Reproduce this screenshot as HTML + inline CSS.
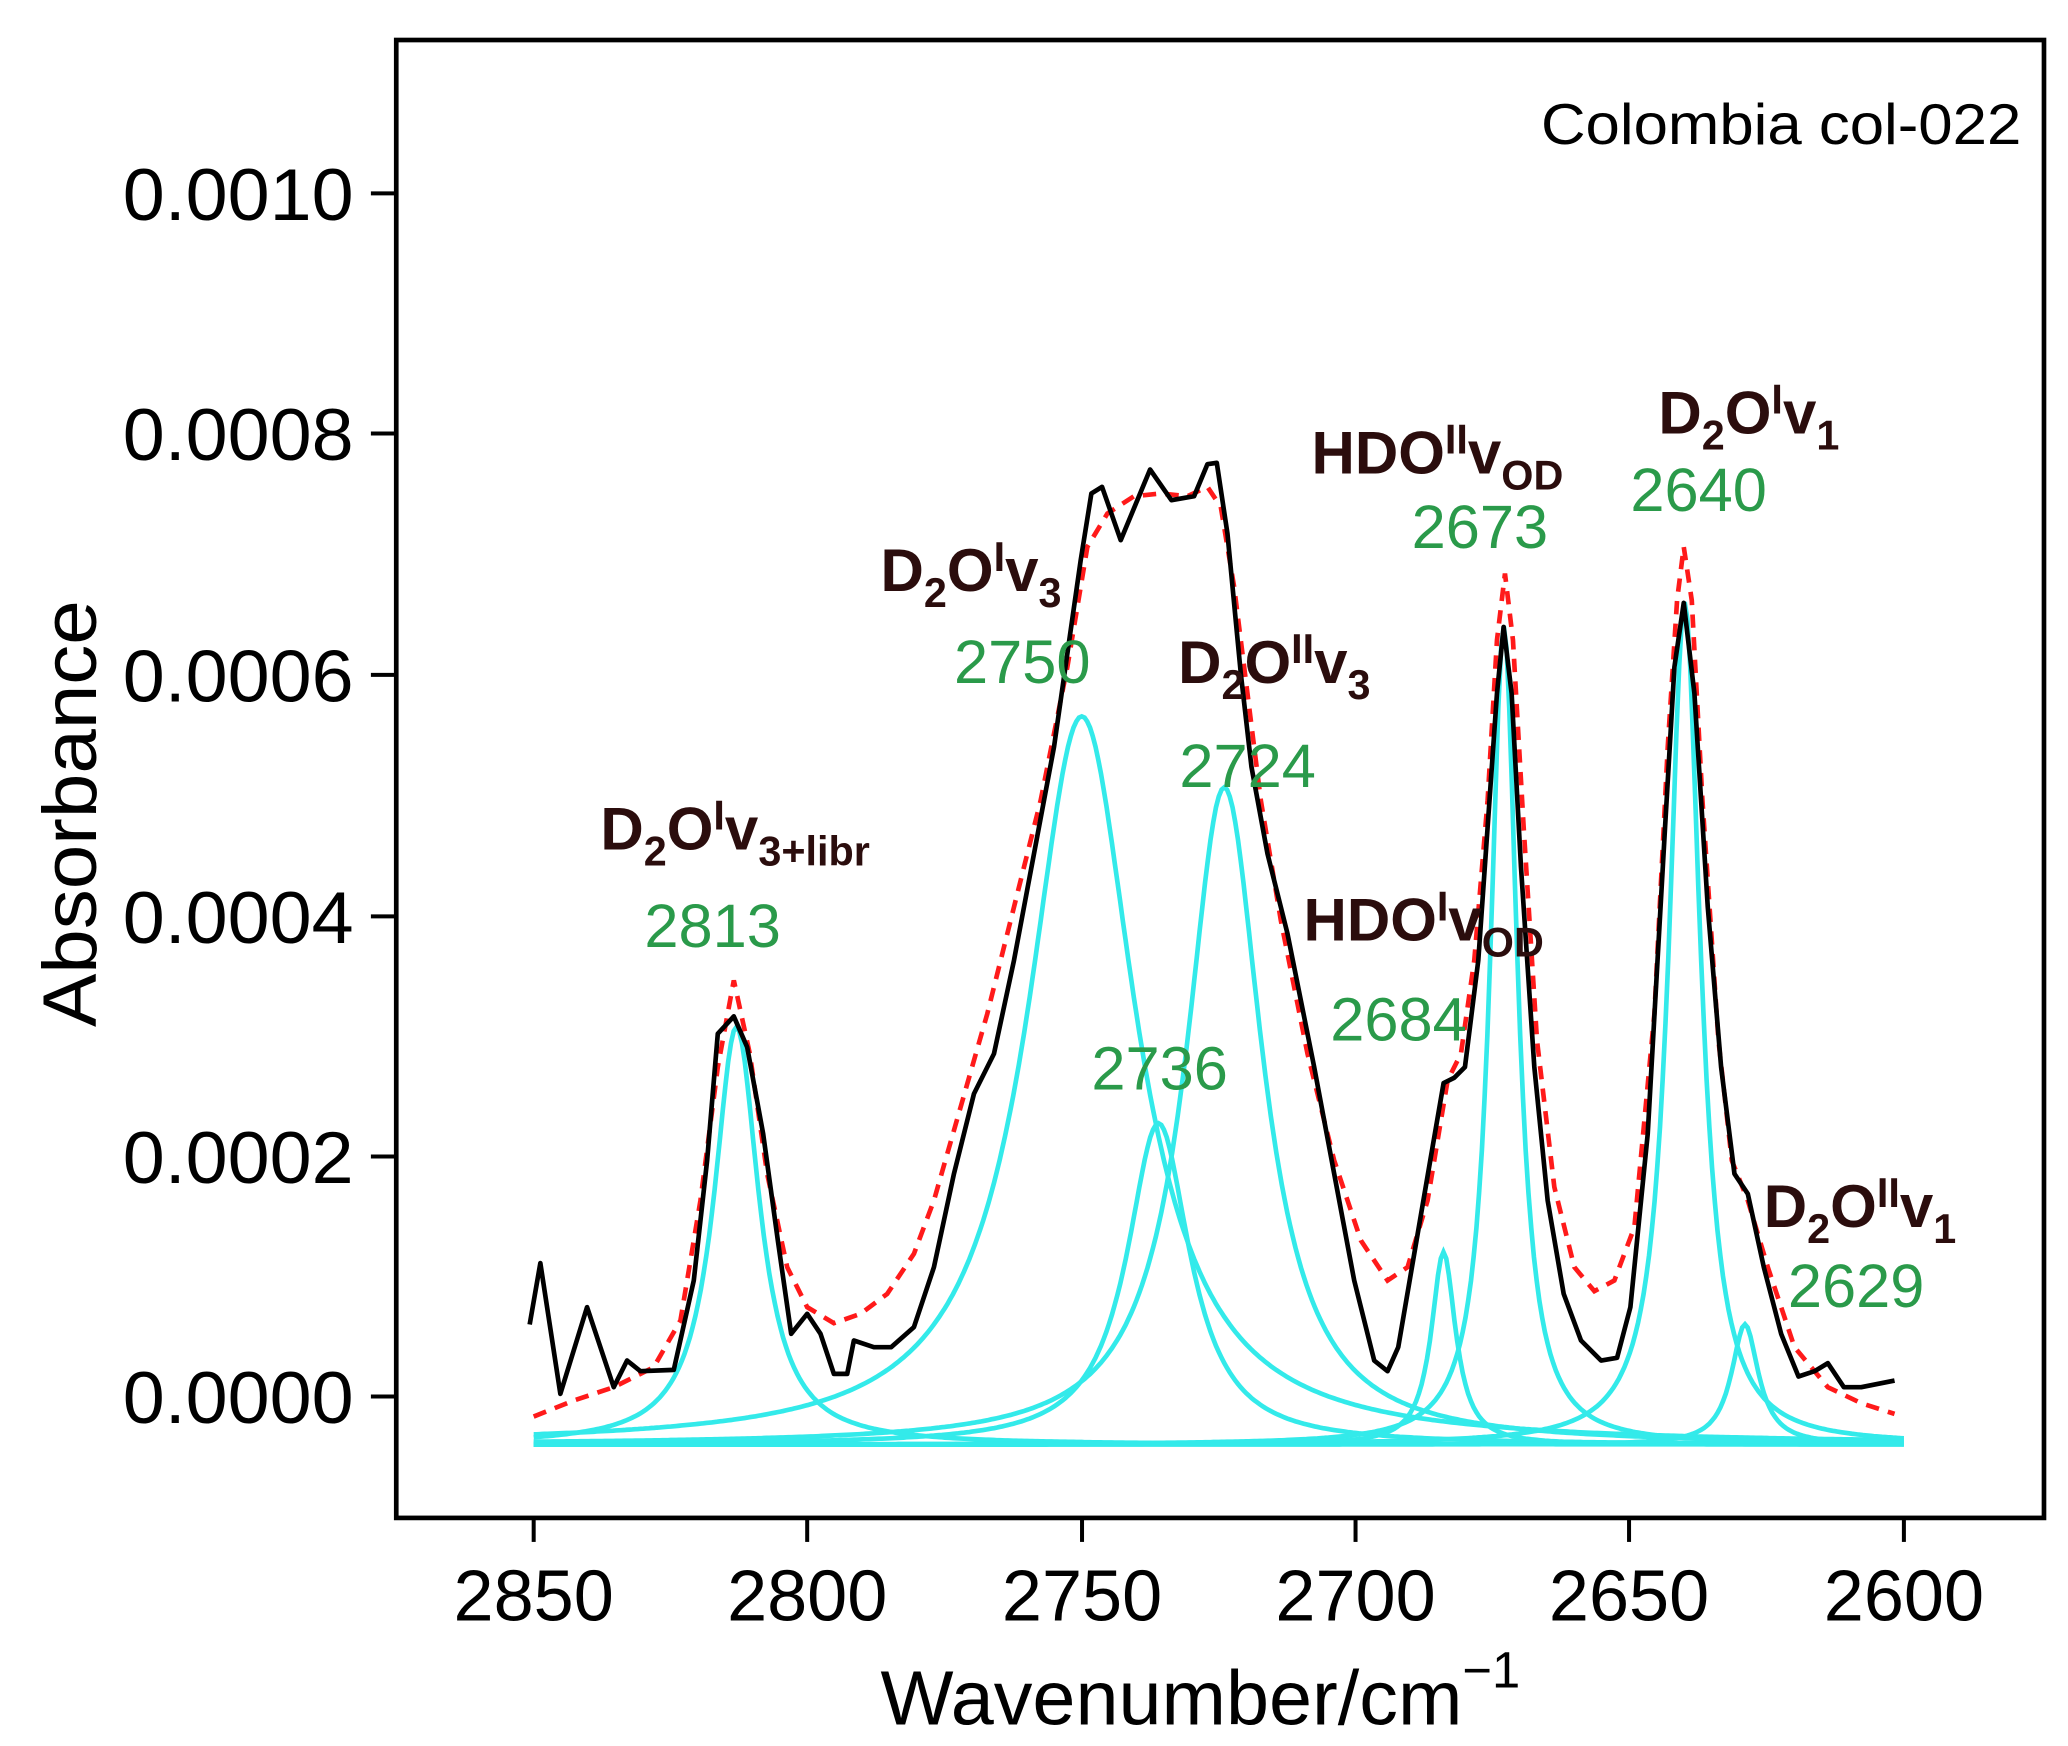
<!DOCTYPE html>
<html><head><meta charset="utf-8"><style>
html,body{margin:0;padding:0;background:#fff;}
svg{display:block;}
text{font-family:"Liberation Sans",Arial,sans-serif;}
.lb{font-weight:bold;fill:#2b0d0d;font-size:45px;}
.sb{font-size:31px;}
.gn{fill:#2a9a4a;font-size:46px;}
</style></head><body>
<svg id="s" width="2068" height="1746" viewBox="0 0 1550 1309" preserveAspectRatio="none" xmlns="http://www.w3.org/2000/svg">
<rect x="0" y="0" width="1550" height="1309" fill="#fff"/>
<g id="curves"></g>
<rect x="297" y="30" width="1235" height="1108" fill="none" stroke="#000" stroke-width="3.5"/>
<g stroke="#000" stroke-width="3">
<line x1="278" y1="145" x2="297" y2="145"/><line x1="278" y1="325" x2="297" y2="325"/>
<line x1="278" y1="506" x2="297" y2="506"/><line x1="278" y1="687" x2="297" y2="687"/>
<line x1="278" y1="867" x2="297" y2="867"/><line x1="278" y1="1047" x2="297" y2="1047"/>
<line x1="400" y1="1138" x2="400" y2="1156"/><line x1="605" y1="1138" x2="605" y2="1156"/>
<line x1="811" y1="1138" x2="811" y2="1156"/><line x1="1016" y1="1138" x2="1016" y2="1156"/>
<line x1="1221" y1="1138" x2="1221" y2="1156"/><line x1="1427" y1="1138" x2="1427" y2="1156"/>
</g>
<g font-size="55">
<text x="92" y="165" textLength="173" lengthAdjust="spacingAndGlyphs">0.0010</text>
<text x="92" y="345" textLength="173" lengthAdjust="spacingAndGlyphs">0.0008</text>
<text x="92" y="526" textLength="173" lengthAdjust="spacingAndGlyphs">0.0006</text>
<text x="92" y="707" textLength="173" lengthAdjust="spacingAndGlyphs">0.0004</text>
<text x="92" y="887" textLength="173" lengthAdjust="spacingAndGlyphs">0.0002</text>
<text x="92" y="1067" textLength="173" lengthAdjust="spacingAndGlyphs">0.0000</text>
</g>
<g font-size="54" text-anchor="middle">
<text x="400" y="1215">2850</text><text x="605" y="1215">2800</text>
<text x="811" y="1215">2750</text><text x="1016" y="1215">2700</text>
<text x="1221" y="1215">2650</text><text x="1427" y="1215">2600</text>
</g>
<text x="660" y="1293" font-size="58">Wavenumber/cm<tspan font-size="38" dy="-28">−1</tspan></text>
<text transform="translate(72,770) rotate(-90)" font-size="57" textLength="320" lengthAdjust="spacingAndGlyphs">Absorbance</text>
<text x="1155" y="108" font-size="43" textLength="360" lengthAdjust="spacingAndGlyphs">Colombia col-022</text>

<text class="lb" x="450" y="637">D<tspan class="sb" dy="12">2</tspan><tspan dy="-12">O</tspan><tspan class="sb" dy="-15">I</tspan><tspan dy="15">v</tspan><tspan class="sb" dy="12">3+libr</tspan></text>
<text class="gn" x="483" y="710">2813</text>
<text class="lb" x="660" y="443">D<tspan class="sb" dy="12">2</tspan><tspan dy="-12">O</tspan><tspan class="sb" dy="-15">I</tspan><tspan dy="15">v</tspan><tspan class="sb" dy="12">3</tspan></text>
<text class="gn" x="715" y="512">2750</text>
<text class="lb" x="883" y="512">D<tspan class="sb" dy="12">2</tspan><tspan dy="-12">O</tspan><tspan class="sb" dy="-15">II</tspan><tspan dy="15">v</tspan><tspan class="sb" dy="12">3</tspan></text>
<text class="gn" x="884" y="590">2724</text>
<text class="gn" x="818" y="817">2736</text>
<text class="lb" x="977" y="705">HDO<tspan class="sb" dy="-15">I</tspan><tspan dy="15">v</tspan><tspan class="sb" dy="12">OD</tspan></text>
<text class="gn" x="997" y="780">2684</text>
<text class="lb" x="983" y="355">HDO<tspan class="sb" dy="-15">II</tspan><tspan dy="15">v</tspan><tspan class="sb" dy="12">OD</tspan></text>
<text class="gn" x="1058" y="411">2673</text>
<text class="lb" x="1243" y="325">D<tspan class="sb" dy="12">2</tspan><tspan dy="-12">O</tspan><tspan class="sb" dy="-15">I</tspan><tspan dy="15">v</tspan><tspan class="sb" dy="12">1</tspan></text>
<text class="gn" x="1222" y="383">2640</text>
<text class="lb" x="1322" y="920">D<tspan class="sb" dy="12">2</tspan><tspan dy="-12">O</tspan><tspan class="sb" dy="-15">II</tspan><tspan dy="15">v</tspan><tspan class="sb" dy="12">1</tspan></text>
<text class="gn" x="1340" y="980">2629</text>
</svg>
<script>
(function(){
var X=function(w){return 400+(2850-w)*4.108;};
var Y=function(a){return 1047-a*902500;};
var base=-0.00004;
var pk=[[2813,0.000347,5],[2750,0.000605,12],[2736,0.000267,7],[2724,0.000546,8.5],[2684,0.00016,2.7],[2673,0.00068,3],[2640,0.0007,3.5],[2629,0.0001,3]];
var g=document.getElementById('curves'),h="";
function L(p,w){return p[1]/(1+Math.pow((w-p[0])/p[2],2));}
pk.forEach(function(p){var d="";for(var w=2850;w>=2600;w-=0.5){d+=(d?"L":"M")+X(w).toFixed(1)+","+Y(base+L(p,w)).toFixed(1);}
h+='<path d="'+d+'" fill="none" stroke="#33eaea" stroke-width="3.5"/>';});
function P(a){var s="";a.forEach(function(r){s+=(s?"L":"M")+r[0]+","+r[1];});return s;}
var red=[[400,1062],[430,1050],[460,1040],[490,1025],[510,990],[525,900],[538,800],[550,735],[562,790],[575,880],[590,950],[605,980],[625,992],[645,985],[665,970],[685,940],[700,900],[720,830],[740,760],[760,680],[780,600],[800,500],[815,410],[830,385],[850,372],[870,370],[890,372],[905,365],[915,380],[925,440],[935,520],[945,600],[960,690],[980,790],[1000,870],[1020,930],[1040,960],[1055,950],[1070,900],[1085,810],[1095,790],[1105,720],[1115,600],[1122,480],[1128,430],[1134,480],[1142,620],[1152,780],[1165,890],[1180,950],[1195,968],[1210,960],[1225,920],[1240,760],[1250,560],[1257,450],[1262,410],[1268,450],[1276,600],[1288,780],[1298,870],[1310,900],[1325,950],[1345,1010],[1370,1040],[1395,1052],[1420,1060]];
var blk=[[397,993],[405,947],[420,1045],[440,980],[460,1040],[470,1020],[480,1028],[505,1027],[520,960],[530,870],[538,775],[550,762],[560,785],[572,850],[583,930],[593,1000],[605,985],[615,1000],[625,1030],[635,1030],[640,1005],[655,1010],[668,1010],[685,995],[700,950],[715,880],[730,820],[745,790],[760,720],[775,640],[790,560],[800,490],[810,420],[818,370],[826,365],[840,405],[862,352],[878,375],[895,372],[905,348],[912,347],[920,400],[930,505],[938,575],[950,640],[965,700],[985,800],[1000,880],[1015,960],[1030,1020],[1040,1028],[1048,1010],[1060,940],[1072,870],[1082,812],[1090,808],[1098,800],[1108,720],[1115,620],[1122,520],[1127,470],[1133,520],[1140,650],[1150,800],[1160,900],[1172,970],[1185,1005],[1200,1020],[1212,1018],[1222,980],[1235,850],[1248,620],[1255,500],[1262,452],[1270,520],[1280,680],[1290,800],[1300,880],[1310,895],[1322,950],[1335,1000],[1348,1032],[1360,1028],[1370,1022],[1382,1040],[1395,1040],[1420,1035]];
h+='<path d="'+P(red)+'" fill="none" stroke="#ff1a1a" stroke-width="3.5" stroke-dasharray="10,7"/>';
h+='<path d="'+P(blk)+'" fill="none" stroke="#000" stroke-width="3.5" stroke-linejoin="round"/>';
g.innerHTML=h;
})();
</script>
</body></html>
